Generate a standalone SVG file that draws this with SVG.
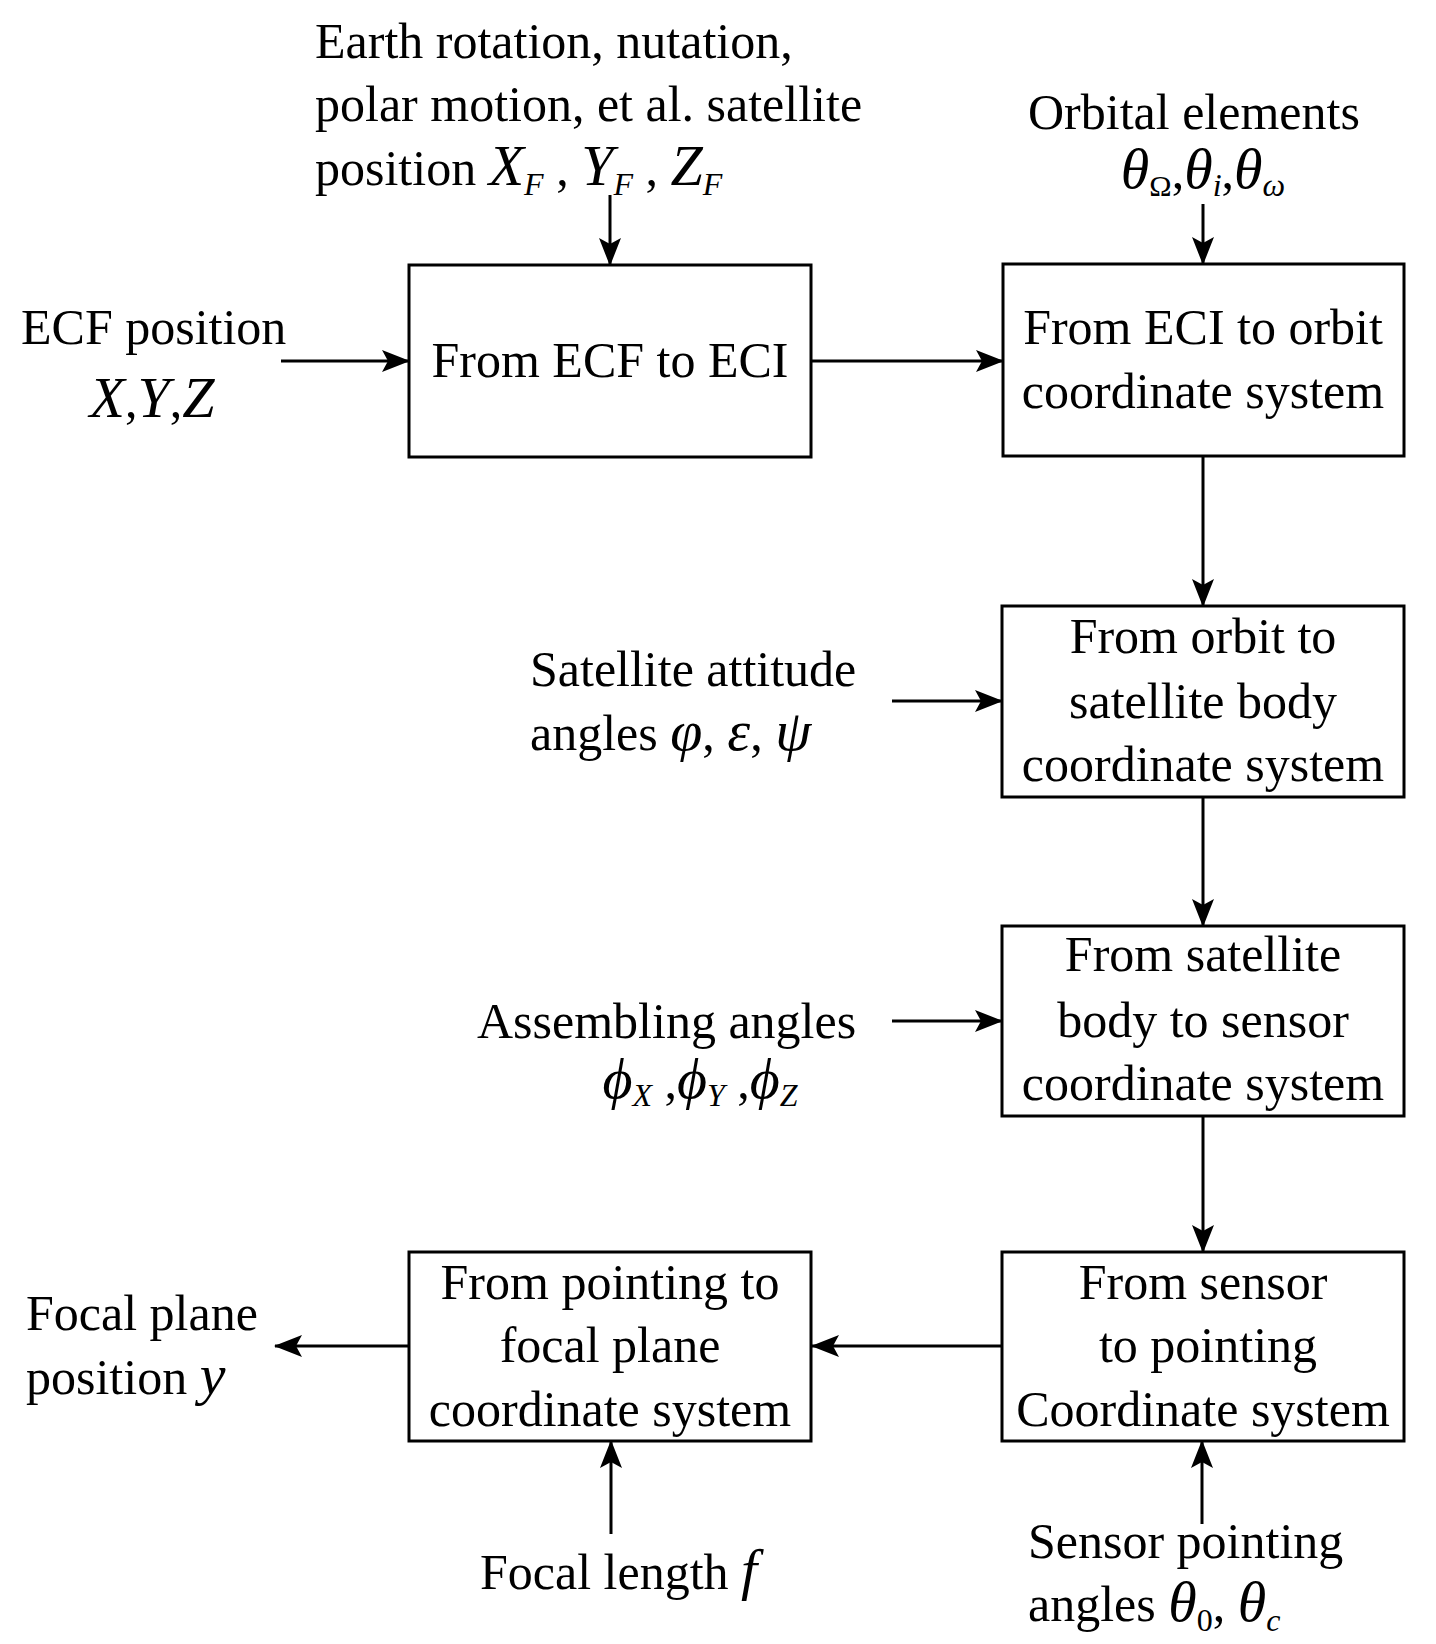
<svg xmlns="http://www.w3.org/2000/svg" width="1436" height="1644" viewBox="0 0 1436 1644">
<style>
text{font-family:"Liberation Serif","Times New Roman",serif;font-size:50px;fill:#000}
.c{text-anchor:middle}
.i{font-style:italic;font-size:58px}
.s{font-size:32px;font-style:italic}
rect{fill:#fff;stroke:#000;stroke-width:3}
line{stroke:#000;stroke-width:3}
</style>
<defs><marker id="b" markerWidth="28" markerHeight="22" refX="27" refY="11" orient="auto" markerUnits="userSpaceOnUse" viewBox="0 0 28 22"><path d="M0,0 L28,11 L0,22 L6,11 Z" fill="#000"/></marker></defs>
<g id="connectors" marker-end="url(#b)">
<line x1="610" y1="195" x2="610" y2="265"/>
<line x1="1203" y1="204" x2="1203" y2="264"/>
<line x1="281" y1="361" x2="409" y2="361"/>
<line x1="811" y1="361" x2="1003" y2="361"/>
<line x1="1203" y1="456" x2="1203" y2="606"/>
<line x1="892" y1="701" x2="1002" y2="701"/>
<line x1="1203" y1="797" x2="1203" y2="926"/>
<line x1="892" y1="1021" x2="1002" y2="1021"/>
<line x1="1203" y1="1116" x2="1203" y2="1252"/>
<line x1="1002" y1="1346" x2="812" y2="1346"/>
<line x1="409" y1="1346" x2="275" y2="1346"/>
<line x1="611" y1="1534" x2="611" y2="1441"/>
<line x1="1202" y1="1524" x2="1202" y2="1441"/>
</g>
<g id="box1"><rect x="409" y="265" width="402" height="192"/><text class="c" x="610" y="377">From ECF to ECI</text></g>
<g id="box2"><rect x="1003" y="264" width="401" height="192"/><text class="c" x="1203" y="344">From ECI to orbit</text><text class="c" x="1203" y="408">coordinate system</text></g>
<g id="box3"><rect x="1002" y="606" width="402" height="191"/><text class="c" x="1203" y="653">From orbit to</text><text class="c" x="1203" y="718">satellite body</text><text class="c" x="1203" y="781">coordinate system</text></g>
<g id="box4"><rect x="1002" y="926" width="402" height="190"/><text class="c" x="1203" y="971">From satellite</text><text class="c" x="1203" y="1037">body to sensor</text><text class="c" x="1203" y="1100">coordinate system</text></g>
<g id="box5"><rect x="1002" y="1252" width="402" height="189"/><text class="c" x="1203" y="1299">From sensor</text><text class="c" x="1208" y="1362">to pointing</text><text class="c" x="1203" y="1426">Coordinate system</text></g>
<g id="box6"><rect x="409" y="1252" width="402" height="189"/><text class="c" x="610" y="1299">From pointing  to</text><text class="c" x="610" y="1362">focal plane</text><text class="c" x="610" y="1426">coordinate system</text></g>
<g id="lbl-earth"><text x="315" y="58">Earth rotation, nutation,</text><text x="315" y="121">polar motion, et al. satellite</text><text x="315" y="185">position <tspan class="i">X</tspan><tspan class="s" dy="10">F</tspan><tspan dy="-10"> , </tspan><tspan class="i">Y</tspan><tspan class="s" dy="10">F</tspan><tspan dy="-10"> , </tspan><tspan class="i">Z</tspan><tspan class="s" dy="10">F</tspan></text></g>
<g id="lbl-orbital"><text x="1028" y="129">Orbital elements</text><text class="c" x="1203" y="188"><tspan class="i">θ</tspan><tspan font-size="30" dy="8">Ω</tspan><tspan dy="-8">,</tspan><tspan class="i">θ</tspan><tspan class="s" dy="8">i</tspan><tspan dy="-8">,</tspan><tspan class="i">θ</tspan><tspan class="s" dy="8">ω</tspan></text></g>
<g id="lbl-ecf"><text x="21" y="344">ECF position</text><text class="c" x="152" y="417"><tspan class="i">X</tspan>,<tspan class="i">Y</tspan>,<tspan class="i">Z</tspan></text></g>
<g id="lbl-att"><text x="530" y="686">Satellite attitude</text><text x="530" y="750">angles <tspan class="i">φ</tspan>, <tspan class="i">ε</tspan>, <tspan class="i">ψ</tspan></text></g>
<g id="lbl-asm"><text x="477" y="1038">Assembling angles</text><text class="c" x="700" y="1098"><tspan class="i">ϕ</tspan><tspan class="s" dy="8">X</tspan><tspan dy="-8"> ,</tspan><tspan class="i">ϕ</tspan><tspan class="s" dy="8">Y</tspan><tspan dy="-8"> ,</tspan><tspan class="i">ϕ</tspan><tspan class="s" dy="8">Z</tspan></text></g>
<g id="lbl-fp"><text x="26" y="1330">Focal plane</text><text x="26" y="1394">position  <tspan class="i">y</tspan></text></g>
<g id="lbl-fl"><text x="480" y="1589">Focal length <tspan class="i">f</tspan></text></g>
<g id="lbl-sp"><text x="1028" y="1558">Sensor pointing</text><text x="1028" y="1621">angles <tspan class="i">θ</tspan><tspan font-size="32" dy="10">0</tspan><tspan dy="-10">, </tspan><tspan class="i">θ</tspan><tspan class="s" dy="10">c</tspan></text></g>
</svg>
